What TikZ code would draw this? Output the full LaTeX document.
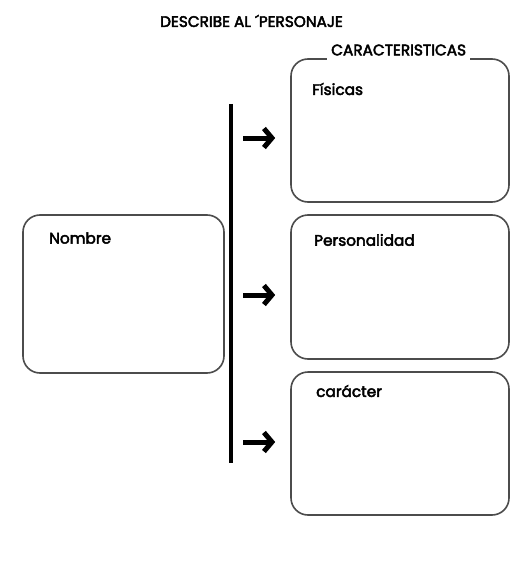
\documentclass[tikz,border=0pt]{standalone}
\usepackage{fontspec}
\setmainfont{Poppins}[FakeBold=3]
\usepackage{tikz}
\usetikzlibrary{positioning}
\usetikzlibrary{arrows.meta}
\tikzset{
	caja/.style={draw=black!70, line width=1.6pt, rounded corners=17pt, minimum width=#1, inner sep=0pt},
	rotulo/.style={anchor=west, inner sep=0pt, font=\fontsize{15.3}{17}\selectfont},
	flecha/.style={line width=5pt, -{Straight Barb[length=8pt,width=19pt,line width=5pt]}}
}
\begin{document}
\begin{tikzpicture}[x=1pt,y=-1pt]
		\useasboundingbox (0,0) rectangle (525,575);
		\fill[white] (0,0) rectangle (525,575);
		\node [rotulo] at (160,21) (titul) {DESCRIBE AL ´PERSONAJE};
		\node [caja=201pt, minimum height=158pt] at (123.5,294) (nombr) {};
		\node [caja=218pt, minimum height=143pt] at (400,130.5) (fisic) {};
		\node [caja=218pt, minimum height=144pt] at (400,287) (person) {};
		\node [caja=218pt, minimum height=143pt] at (400,443.5) (caract) {};
		\node [rotulo, fill=white, inner xsep=4pt, inner ysep=7pt] at (327,50) (caracts) {CARACTERISTICAS};
		\node [rotulo] at (49,238) (nombrt) {Nombre};
		\node [rotulo] at (312,89) (fisict) {Físicas};
		\node [rotulo] at (314,240) (persont) {Personalidad};
		\node [rotulo] at (316,391) (caractt) {carácter};
		\coordinate (ejearr) at (231,104); \coordinate (ejeab) at (231,463);
		\draw [line width=4pt] (ejearr) -- (ejeab);
		\coordinate (fl1) at (243,138); \coordinate (fl2) at (243,295); \coordinate (fl3) at (243,442);
		\draw [flecha, shorten >=15pt] (fl1) -- (fl1 -| fisic.west);
		\draw [flecha, shorten >=15pt] (fl2) -- (fl2 -| person.west);
		\draw [flecha, shorten >=15pt] (fl3) -- (fl3 -| caract.west);
		\end{tikzpicture}
\end{document}
